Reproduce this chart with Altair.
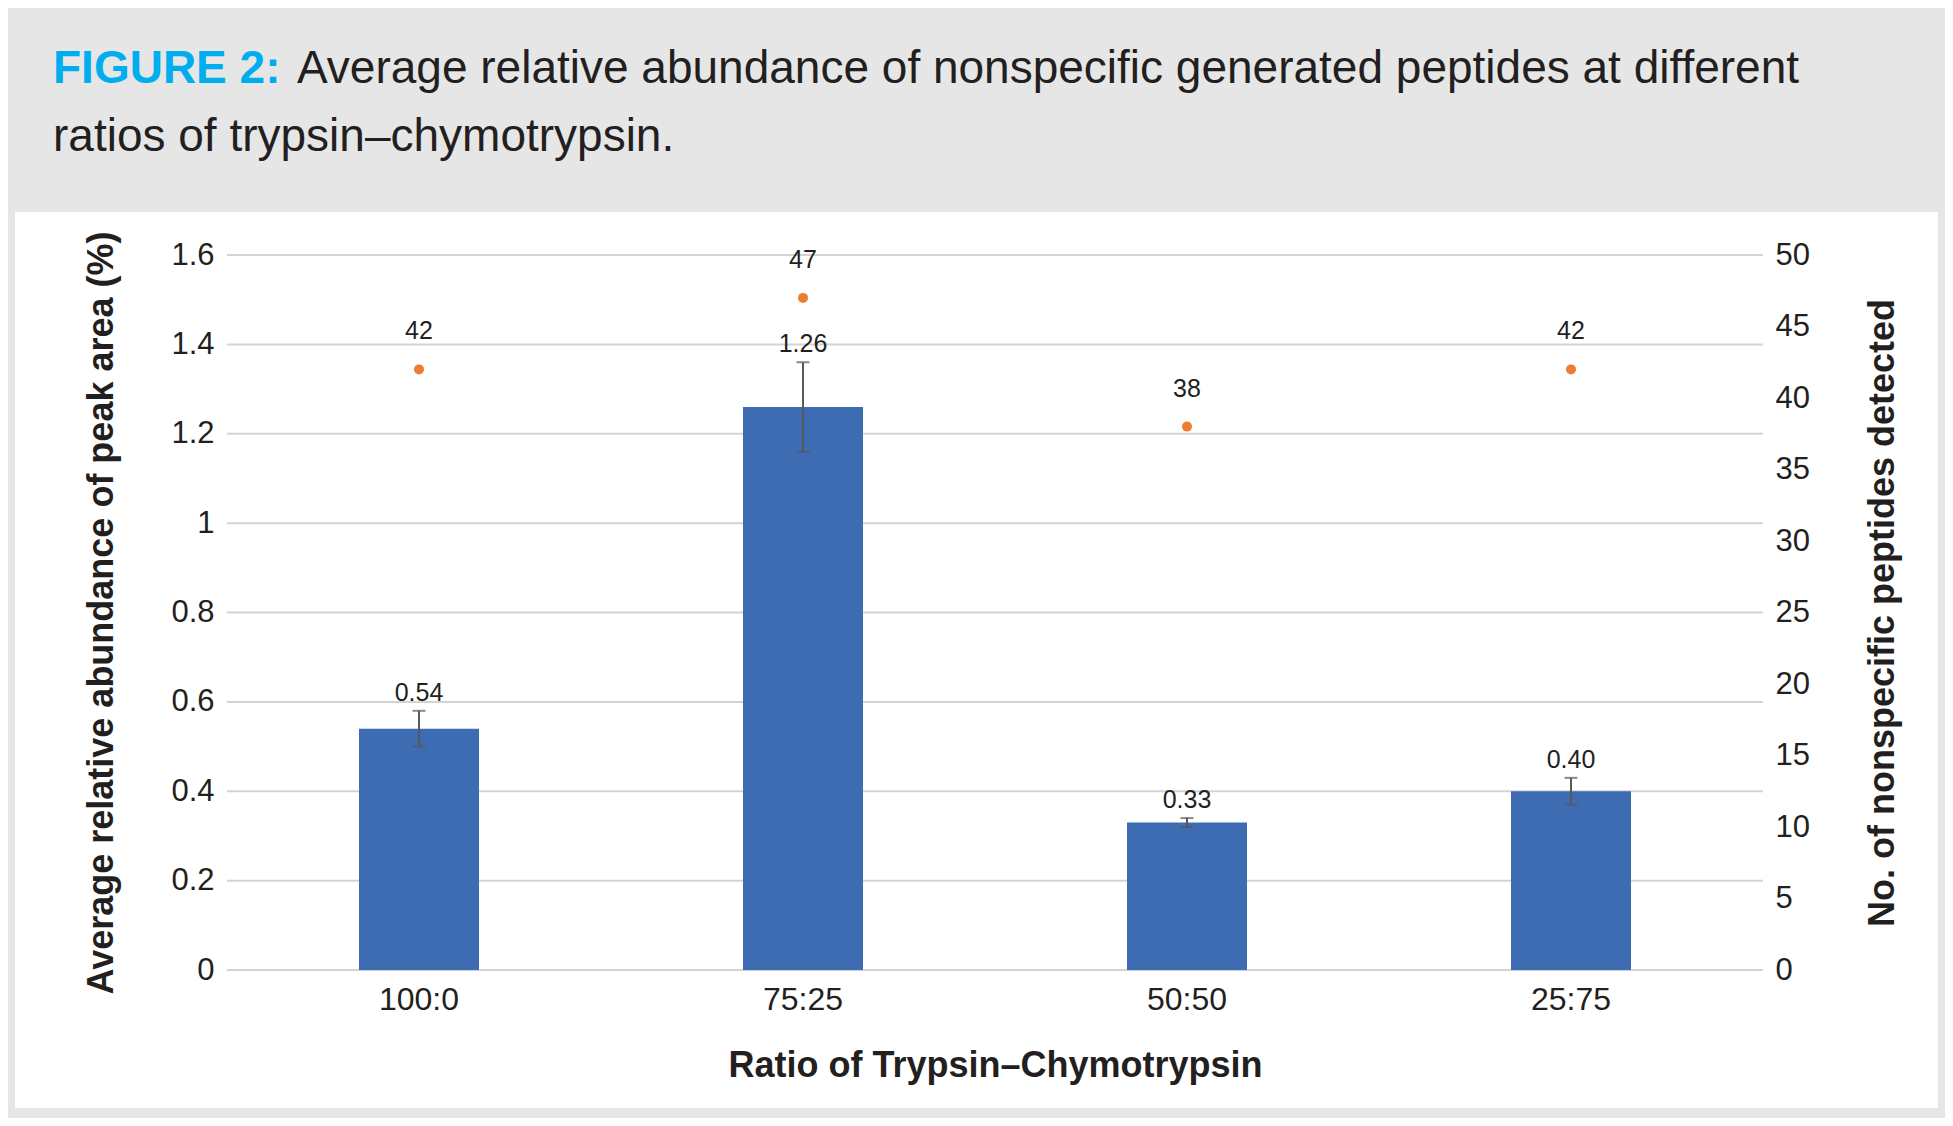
import altair as alt
import pandas as pd

# values
ratios = ["100:0", "75:25", "50:50", "25:75"]
abundance = [0.54, 1.26, 0.33, 0.40]
abundance_err = [0.04, 0.10, 0.01, 0.03]
peptides = [42, 47, 38, 42]
left_ticks = [0, 0.2, 0.4, 0.6, 0.8, 1, 1.2, 1.4, 1.6]
right_ticks = [0, 5, 10, 15, 20, 25, 30, 35, 40, 45, 50]

fig_label = "FIGURE 2:"
caption_line1 = "Average relative abundance of nonspecific generated peptides at different"
caption_line2 = "ratios of trypsin\u2013chymotrypsin."

df = pd.DataFrame({
    "ratio": ratios,
    "abundance": abundance,
    "err": abundance_err,
    "peptides": peptides,
})
df["lo"] = df["abundance"] - df["err"]
df["hi"] = df["abundance"] + df["err"]

W, H = 1536, 715
INK = "#231f20"
GREY = "#e6e6e6"
FONT = "Liberation Sans"

# every y scale has a fixed domain, so the layers line up even when resolved independently
yl_scale = alt.Scale(domain=[0, 1.6], nice=False)
yr_scale = alt.Scale(domain=[0, 50], nice=False)

x_enc = alt.X(
    "ratio:N", sort=ratios,
    scale=alt.Scale(paddingInner=0, paddingOuter=0),
    axis=alt.Axis(
        labelAngle=0, labelFontSize=32, labelColor=INK, labelPadding=14,
        domain=False, ticks=False, zindex=1,
        title="Ratio of Trypsin\u2013Chymotrypsin", titleFontSize=36,
        titleFontWeight="bold", titleColor=INK, titlePadding=33,
    ),
)


def grey_band(x0, x1, y0, y1):
    # grey frame around the white chart panel (background is white)
    return alt.Chart(alt.Data(values=[{}])).mark_rect(color=GREY).encode(
        x=alt.value(x0), x2=alt.value(x1), y=alt.value(y0), y2=alt.value(y1)
    )


frame = [
    grey_band(-219, 1718, -247, -43),
    grey_band(-219, -212, -43, 863),
    grey_band(1711, 1718, -43, 863),
    grey_band(-219, 1718, 853, 863),
]

# gridlines + left axis
grid = alt.Chart(pd.DataFrame({"g": left_ticks})).mark_rule(
    color="#d3d3d3", strokeWidth=2
).encode(
    y=alt.Y("g:Q", scale=yl_scale, axis=alt.Axis(
        values=left_ticks, format="~g", grid=False, domain=False, ticks=False,
        zindex=1, labelFontSize=31, labelPadding=13, labelColor=INK,
        title="Average relative abundance of peak area (%)", titleFontSize=36,
        titleFontWeight="bold", titleColor=INK, titlePadding=50,
    ))
)

base = alt.Chart(df)

bars = base.mark_bar(size=120, color="#3d6cb3").encode(
    x=x_enc, y=alt.Y("abundance:Q", scale=yl_scale, axis=None)
)

err = base.mark_rule(color="#595959", strokeWidth=2).encode(
    x=x_enc, y=alt.Y("lo:Q", scale=yl_scale, axis=None), y2="hi:Q"
)
cap_lo = base.mark_tick(color="#595959", size=13, thickness=2).encode(
    x=x_enc, y=alt.Y("lo:Q", scale=yl_scale, axis=None)
)
cap_hi = base.mark_tick(color="#595959", size=13, thickness=2).encode(
    x=x_enc, y=alt.Y("hi:Q", scale=yl_scale, axis=None)
)

bar_labels = base.mark_text(fontSize=25, color=INK, baseline="alphabetic", dy=-10).encode(
    x=x_enc, y=alt.Y("hi:Q", scale=yl_scale, axis=None),
    text=alt.Text("abundance:Q", format=".2f"),
)

# caption
cap1 = alt.Chart(alt.Data(values=[{"t": fig_label}])).mark_text(
    align="left", baseline="alphabetic", fontSize=46, fontWeight="bold", color="#00aeef"
).encode(x=alt.value(-174), y=alt.value(-172), text="t:N")
cap2 = alt.Chart(alt.Data(values=[{"t": caption_line1}])).mark_text(
    align="left", baseline="alphabetic", fontSize=46, color=INK
).encode(x=alt.value(70), y=alt.value(-172), text="t:N")
cap3 = alt.Chart(alt.Data(values=[{"t": caption_line2}])).mark_text(
    align="left", baseline="alphabetic", fontSize=46, color=INK
).encode(x=alt.value(-174), y=alt.value(-104), text="t:N")

points = base.mark_circle(size=100, color="#ed7d31", opacity=1).encode(
    x=x_enc,
    y=alt.Y("peptides:Q", scale=yr_scale, axis=alt.Axis(
        orient="right", values=right_ticks, grid=False, domain=False, ticks=False,
        zindex=1, labelFontSize=31, labelPadding=12, labelColor=INK,
        title="No. of nonspecific peptides detected", titleFontSize=36,
        titleFontWeight="bold", titleColor=INK, titleAngle=270,
        titleBaseline="top", titlePadding=56,
    )),
)
point_labels = base.mark_text(fontSize=25, color=INK, baseline="alphabetic", dy=-30).encode(
    x=x_enc, y=alt.Y("peptides:Q", scale=yr_scale, axis=None), text="peptides:Q"
)

chart = alt.layer(
    *frame, grid, bars, err, cap_lo, cap_hi, bar_labels, cap1, cap2, cap3,
    points, point_labels,
).resolve_scale(y="independent").properties(
    width=W, height=H,
    padding={"left": 219, "top": 247, "right": 182, "bottom": 148},
    autosize=alt.AutoSizeParams(type="none"),
).configure(background="white", font=FONT).configure_view(stroke=None)

chart.save("out.html", embed_options={"renderer": "svg", "actions": False})
